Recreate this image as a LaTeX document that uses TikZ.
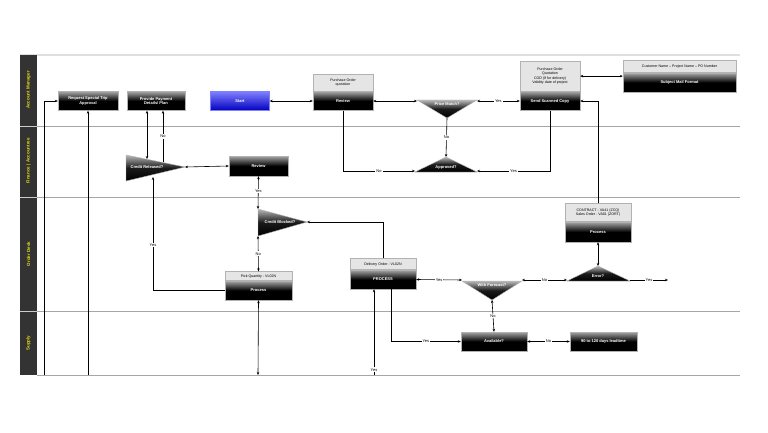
\documentclass[tikz,border=0pt]{standalone}
\usepackage{fontspec}
\setmainfont{Liberation Sans}
\usetikzlibrary{arrows.meta,calc}
\begin{document}
\begin{tikzpicture}[x=1pt,y=-1pt,
  box/.style={draw=gray!60,top color=gray!70,bottom color=black,middle color=black,text=white,font=\fontsize{4}{4.6}\selectfont\bfseries,align=center,inner sep=0pt},
  hdr/.style={draw=gray!60,fill=gray!20,text=black,font=\fontsize{3.6}{4.3}\selectfont,align=center,inner sep=0pt},
  tri/.style={draw=gray!60,top color=gray!55,bottom color=black,middle color=black!90},
  tt/.style={text=white,font=\fontsize{4}{4.6}\selectfont\bfseries,inner sep=0pt},
  lane/.style={fill=black!80,draw=none},
  lt/.style={text=yellow!90!black,font=\fontsize{4.5}{5}\selectfont\bfseries,rotate=90},
  sep/.style={draw=gray!70,line width=0.6pt},
  c/.style={draw=black,line width=0.6pt},
  a/.style={c,-{Stealth[length=3pt,width=2.5pt]}},
  b/.style={c,{Stealth[length=3pt,width=2.5pt]}-{Stealth[length=3pt,width=2.5pt]}},
  lb/.style={fill=white,font=\fontsize{4}{4.6}\selectfont,inner sep=1pt}]
\useasboundingbox (0,0) rectangle (768,433);
\fill[white] (0,0) rectangle (768,433);
% lanes
\draw[gray!25,line width=1.2pt] (20,55) -- (740,55);
\foreach \y in {126,197,311}{\draw[sep] (37,\y) -- (740,\y);}
\draw[sep] (37,375) -- (740,375);
\fill[lane] (20,55) rectangle (37,375);
\foreach \y in {126,197,311}{\draw[gray!40,line width=0.6pt] (20,\y) -- (37,\y);}
\node[lt] (l1) at (28.5,90) {Account Manager};
\node[lt] (l2) at (28.5,161) {Finance | Accountree};
\node[lt] (l3) at (28.5,254) {Order Desk};
\node[lt] (l4) at (28.5,343) {Supply};
% boxes
\node[box,minimum width=60pt,minimum height=19pt] (req) at (88,101) {Request Special Trip\\Approval};
\node[box,minimum width=58pt,minimum height=19pt] (pay) at (156,101) {Provide Payment\\Details/ Plan};
\node[draw=blue!50,top color=blue!50,bottom color=blue!75!black,text=white,font=\fontsize{4}{4.6}\selectfont\bfseries,minimum width=59pt,minimum height=19pt,inner sep=0pt] (start) at (240,101) {Start};
\node[box,minimum width=60pt,minimum height=19pt] (rev1) at (343,101) {Review};
\node[hdr,minimum width=60pt,minimum height=17pt,anchor=south] (poq) at (rev1.north) {Purchase Order\\quotation};
\node[box,minimum width=60pt,minimum height=19pt] (ssc) at (550,101) {Send Scanned Copy};
\node[hdr,minimum width=60pt,minimum height=30pt,anchor=south] (poq2) at (ssc.north) {Purchase Order\\Quotation\\COD (If for delivery)\\Validity date of project};
\node[box,minimum width=113pt,minimum height=19pt] (smf) at (679.5,82.5) {Subject Mail Format};
\node[hdr,minimum width=113pt,minimum height=12pt,anchor=south] (cpn) at (smf.north) {Customer Name -- Project Name -- PO Number};
\node[box,minimum width=59pt,minimum height=20pt] (rev2) at (258.5,166) {Review};
\node[box,minimum width=67pt,minimum height=19pt] (pp) at (258.5,290.5) {Process};
\node[hdr,minimum width=67pt,minimum height=9pt,anchor=south] (pq) at (pp.north) {Pick Quantity - VL02N};
\node[box,minimum width=66pt,minimum height=19pt] (dp) at (383,279.5) {PROCESS};
\node[hdr,minimum width=66pt,minimum height=11pt,anchor=south] (do) at (dp.north) {Delivery Order - VL02N};
\node[box,minimum width=66pt,minimum height=20pt] (cp) at (598,232) {Process};
\node[hdr,minimum width=66pt,minimum height=18pt,anchor=south] (co) at (cp.north) {CONTRACT - VA41 (ZCQ)\\Sales Order - VA01 (ZORT)};
\node[box,minimum width=66pt,minimum height=19pt] (av) at (494,341.5) {Available?};
\node[box,minimum width=67pt,minimum height=19pt] (lt) at (603.5,341.5) {90 to 120 days leadtime};
% triangles
\draw[tri] (417,100) -- (477,100) -- (447,118) -- cycle;
\node[tt] (pm) at (447,104) {Price Match?};
\draw[tri] (415,172) -- (477,172) -- (446,157) -- cycle;
\node[tt] (ap) at (446,167) {Approved?};
\draw[tri] (126,155) -- (185,167) -- (126,181) -- cycle;
\node[tt] (cr) at (147,167) {Credit Released?};
\draw[tri] (258,209) -- (307,222) -- (258,236) -- cycle;
\node[tt] (cb) at (280,222) {Credit Blocked?};
\draw[tri] (462,281) -- (522,281) -- (492,300) -- cycle;
\node[tt] (wf) at (492,285) {With Forecast?};
\draw[tri] (567,281) -- (630,281) -- (598,266) -- cycle;
\node[tt] (er) at (598,276) {Error?};
\coordinate (pmL) at (417,101); \coordinate (pmR) at (477,101); \coordinate (pmB) at (447,118);
\coordinate (apL) at (415,171); \coordinate (apR) at (477,171); \coordinate (apT) at (446,157);
\coordinate (crA) at (147,159); \coordinate (crB) at (163,162); \coordinate (crR) at (185,167); \coordinate (crD) at (153,177);
\coordinate (cbT) at (258,209); \coordinate (cbB) at (258,236); \coordinate (cbR) at (307,222);
\coordinate (wfL) at (462,280); \coordinate (wfR) at (522,280); \coordinate (wfB) at (492,300);
\coordinate (erT) at (598,266); \coordinate (erL) at (567,280); \coordinate (erR) at (630,280);
\coordinate (e1) at (44,375); \coordinate (e2) at (88,375); \coordinate (e3) at (258,375); \coordinate (e4) at (374,375);
\coordinate (e5) at (668,280);
% connectors
\draw[a] (e1) |- (req.west);
\draw[a] (e2) -- (req.south);
\draw[b] (pay.south -| crA) -- (crA);
\draw[a] (crB) -- node[lb]{No} (crB |- pay.south);
\draw[b] (crR) -- (rev2.west);
\draw[b] (rev2.south) -- node[lb,pos=0.45]{Yes} (cbT);
\draw[b] (cbB) -- node[lb]{No} (pq.north);
\draw[a] (pp.west) -| node[lb,pos=0.7]{Yes} (crD);
\draw[b] (e3) -- (pp.south);
\draw[a] (do.north) |- (cbR);
\draw[b] (start.east) -- (rev1.west);
\draw[b] (rev1.east) -- (pmL);
\draw[b] (pmR) -- node[lb]{Yes} (ssc.west);
\draw[a] (pmB) -- node[lb]{No} (apT);
\draw[a] (rev1.south) |- node[lb,pos=0.75]{No} (apL);
\draw[a] (ssc.south) |- node[lb,pos=0.75]{Yes} (apR);
\draw[b] (poq2.east) -- (cpn.west |- poq2.east);
\draw[a] (co.north) |- (ssc.east);
\draw[b] (cp.south) -- (erT);
\draw[a] (erR) -- node[lb]{Yes} (e5);
\draw[b] (erL) -- node[lb]{No} (wfR);
\draw[b] (wfL) -- node[lb]{Yes} (dp.east);
\draw[b] (wfB) -- node[lb]{No} (av.north);
\draw[b] (av.east) -- node[lb]{No} (lt.west);
\draw[a] ($(dp.south)+(8,0)$) |- node[lb,pos=0.75]{Yes} (av.west);
\draw[a] (e4) -- node[lb,pos=0.06]{Yes} ($(dp.south)+(-9,0)$);
\end{tikzpicture}
\end{document}
